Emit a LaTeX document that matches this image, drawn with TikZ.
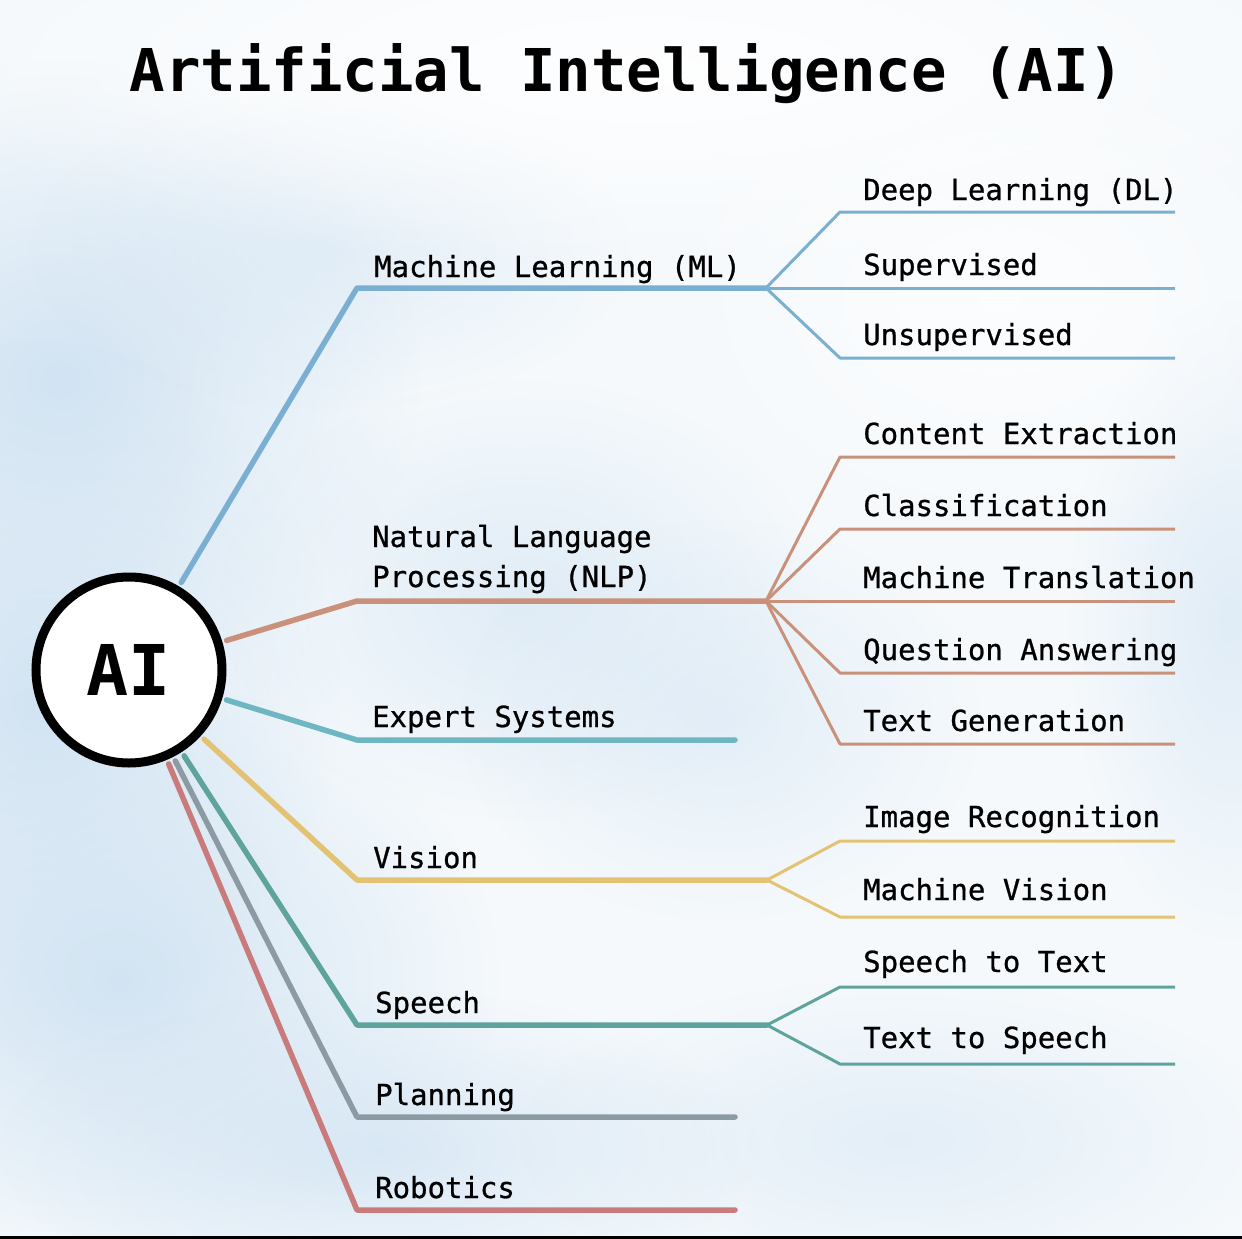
\documentclass[tikz,border=0pt]{standalone}
\usepackage{fontspec}
\newfontfamily\monof{DejaVu Sans Mono}
\newfontfamily\monolab{DejaVu Sans Mono}[RawFeature={embolden=0.8}]
\usetikzlibrary{fadings}
\tikzfading[name=softblob, inner color=transparent!0, outer color=transparent!100]
\pgfdeclarelayer{back}
\pgfdeclarelayer{links}
\pgfsetlayers{back,links,main}
\definecolor{bgbase}{HTML}{F5F9FC}
\definecolor{bgblue}{HTML}{D2E4F3}
\definecolor{mlc}{HTML}{7BAFD2}
\definecolor{nlpc}{HTML}{C9917A}
\definecolor{expc}{HTML}{6DB6C2}
\definecolor{visc}{HTML}{E3C274}
\definecolor{spc}{HTML}{5FA39D}
\definecolor{plc}{HTML}{8C9BA3}
\definecolor{robc}{HTML}{C97B7C}
\begin{document}
\begin{tikzpicture}[x=1pt,y=-1pt,
  lab/.style={anchor=base west, inner sep=0pt, font=\monolab\fontsize{29}{40}\selectfont, text=black},
  mainlink/.style={line width=5.5pt, line join=round, line cap=round},
  sublink/.style={line width=3pt, line join=round},
  blob/.style={fill=bgblue, path fading=softblob}
]
\useasboundingbox (0,0) rectangle (1242,1239);

% ---------- background ----------
\begin{pgfonlayer}{back}
\fill[bgbase] (0,0) rectangle (1242,1239);
\fill[blob] (60,380) ellipse (360 and 320);
\fill[blob] (40,700) ellipse (300 and 360);
\fill[blob] (120,980) ellipse (380 and 300);
\fill[blob, opacity=0.8] (380,1150) ellipse (380 and 160);
\fill[blob, opacity=0.6] (520,600) ellipse (300 and 220);
\fill[blob, opacity=0.5] (720,720) ellipse (260 and 200);
\fill[blob, opacity=0.6] (1230,620) ellipse (160 and 320);
\fill[blob, opacity=0.5] (900,1140) ellipse (380 and 160);
\fill[blob, opacity=0.5] (330,250) ellipse (300 and 160);
\fill[white, path fading=softblob, opacity=0.9] (650,70) ellipse (760 and 200);
\fill[white, path fading=softblob, opacity=0.7] (1000,300) ellipse (360 and 260);
\fill[black] (0,1236) rectangle (1242,1239);
\end{pgfonlayer}

% ---------- title ----------
\node[anchor=base, inner sep=0pt, font=\monof\bfseries\fontsize{59}{70}\selectfont] (title) at (627,92) {Artificial Intelligence (AI)};

% ---------- centre ----------
\node[circle, draw=black, line width=9pt, fill=white, minimum size=186pt, inner sep=0pt,
      font=\monof\bfseries\fontsize{70}{80}\selectfont] (ai) at (129,670) {AI};

% ---------- first-level labels ----------
\node[lab] (ml) at (374,277) {Machine Learning (ML)};
\node[lab, align=left] (nlp) at (372,587) {Natural Language\\Processing (NLP)};
\node[lab] (exp) at (372,727) {Expert Systems};
\node[lab] (vis) at (373,868) {Vision};
\node[lab] (sp) at (375,1013) {Speech};
\node[lab] (pl) at (375,1105) {Planning};
\node[lab] (rob) at (375,1198) {Robotics};

% ---------- second-level labels ----------
\node[lab] (dl) at (863,200) {Deep Learning (DL)};
\node[lab] (sup) at (863,275) {Supervised};
\node[lab] (uns) at (863,345) {Unsupervised};
\node[lab] (ce) at (863,444) {Content Extraction};
\node[lab] (cl) at (863,516) {Classification};
\node[lab] (mt) at (863,588) {Machine Translation};
\node[lab] (qa) at (863,660) {Question Answering};
\node[lab] (tg) at (863,731) {Text Generation};
\node[lab] (ir) at (863,827) {Image Recognition};
\node[lab] (mv) at (863,900) {Machine Vision};
\node[lab] (stt) at (863,972) {Speech to Text};
\node[lab] (tts) at (863,1048) {Text to Speech};

% ---------- coordinates ----------
\coordinate (mlB) at (357,288);  \coordinate (mlF) at (766,288);
\coordinate (nlpB) at (357,601); \coordinate (nlpF) at (766,601);
\coordinate (expB) at (357,740); \coordinate (expE) at (735,740);
\coordinate (visB) at (357,880); \coordinate (visF) at (767,880);
\coordinate (spB) at (357,1025); \coordinate (spF) at (767,1025);
\coordinate (plB) at (357,1117); \coordinate (plE) at (735,1117);
\coordinate (robB) at (357,1210); \coordinate (robE) at (735,1210);

\coordinate (dlA) at (840,212);  \coordinate (dlE) at (1175,212);
\coordinate (supE) at (1175,288);
\coordinate (unsA) at (840,358); \coordinate (unsE) at (1175,358);
\coordinate (ceA) at (840,457);  \coordinate (ceE) at (1175,457);
\coordinate (clA) at (840,529);  \coordinate (clE) at (1175,529);
\coordinate (mtE) at (1175,601);
\coordinate (qaA) at (840,673);  \coordinate (qaE) at (1175,673);
\coordinate (tgA) at (840,744);  \coordinate (tgE) at (1175,744);
\coordinate (irA) at (840,841);  \coordinate (irE) at (1175,841);
\coordinate (mvA) at (840,917);  \coordinate (mvE) at (1175,917);
\coordinate (sttA) at (840,987); \coordinate (sttE) at (1175,987);
\coordinate (ttsA) at (840,1064); \coordinate (ttsE) at (1175,1064);

% ---------- connectors ----------
\begin{pgfonlayer}{links}
\draw[mainlink, mlc, shorten <=4.5pt] (ai) -- (mlB) -- (mlF);
\draw[mainlink, nlpc, shorten <=4.5pt] (ai) -- (nlpB) -- (nlpF);
\draw[mainlink, expc, shorten <=4.5pt] (ai) -- (expB) -- (expE);
\draw[mainlink, visc, shorten <=4.5pt] (ai) -- (visB) -- (visF);
\draw[mainlink, spc, shorten <=4.5pt] (ai) -- (spB) -- (spF);
\draw[mainlink, plc, shorten <=4.5pt] (ai) -- (plB) -- (plE);
\draw[mainlink, robc, shorten <=4.5pt] (ai) -- (robB) -- (robE);

\draw[sublink, mlc] (mlF) -- (dlA) -- (dlE);
\draw[sublink, mlc] (mlF) -- (supE);
\draw[sublink, mlc] (mlF) -- (unsA) -- (unsE);

\draw[sublink, nlpc] (nlpF) -- (ceA) -- (ceE);
\draw[sublink, nlpc] (nlpF) -- (clA) -- (clE);
\draw[sublink, nlpc] (nlpF) -- (mtE);
\draw[sublink, nlpc] (nlpF) -- (qaA) -- (qaE);
\draw[sublink, nlpc] (nlpF) -- (tgA) -- (tgE);

\draw[sublink, visc] (visF) -- (irA) -- (irE);
\draw[sublink, visc] (visF) -- (mvA) -- (mvE);

\draw[sublink, spc] (spF) -- (sttA) -- (sttE);
\draw[sublink, spc] (spF) -- (ttsA) -- (ttsE);
\end{pgfonlayer}
\end{tikzpicture}
\end{document}
